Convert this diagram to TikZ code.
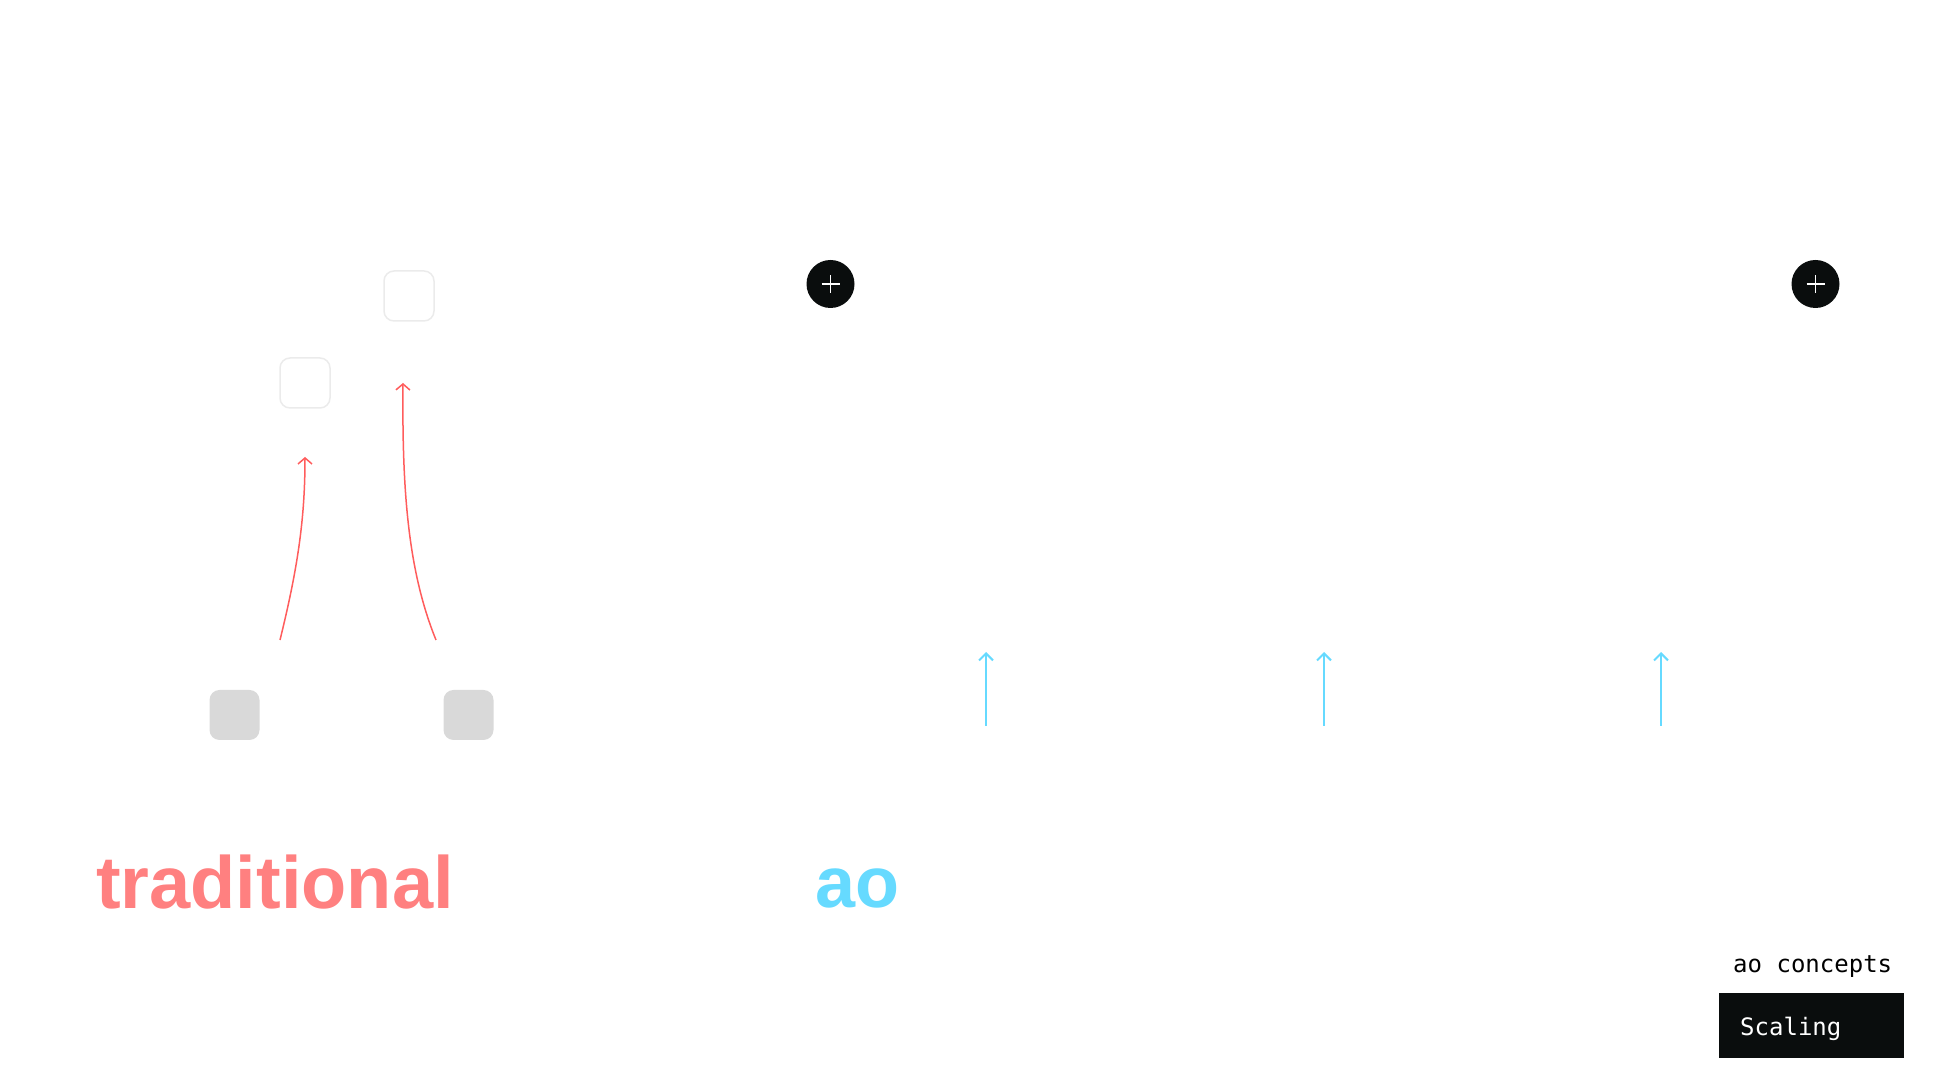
\documentclass[tikz,border=0pt]{standalone}
\usepackage{fontspec}
\usepackage{tikz}
\usetikzlibrary{arrows.meta}
\newfontfamily\headfont{Liberation Sans}
\newfontfamily\codefont{DejaVu Sans Mono}
\definecolor{tradred}{HTML}{FF8080}
\definecolor{arrowred}{HTML}{FF5C5C}
\definecolor{aoblue}{HTML}{66DAFF}
\definecolor{inkblack}{HTML}{0A0D0D}
\definecolor{boxgrey}{HTML}{D9D9D9}
\definecolor{lightgrey}{HTML}{EBEBEB}

\begin{document}
\begin{tikzpicture}[x=1pt,y=1pt]
            \useasboundingbox (0,0) rectangle (1938,1091);

            \begin{scope}[every node/.style={rounded corners=10pt,minimum size=50pt,inner sep=0pt}]
                \node[fill=boxgrey] (p) at (234.5,376) {};
                \node[fill=boxgrey] (q) at (468.5,376) {};
                \node[draw=lightgrey,line width=1.5pt] (r) at (305,708) {};
                \node[draw=lightgrey,line width=1.5pt] (s) at (409,795) {};
            \end{scope}

            \begin{scope}[every node/.style={circle,fill=inkblack,minimum size=48pt,inner sep=0pt}]
                \node (c1) at (830.5,807) {};
                \node (c2) at (1815.5,807) {};
            \end{scope}
            \foreach \c in {c1,c2} {
                \draw[white,line width=1.5pt] (\c.center) +(-9,0) -- +(9,0);
                \draw[white,line width=1.5pt] (\c.center) +(0,-9) -- +(0,9);
            }

            \begin{scope}[arrowred,line width=1.5pt,-{Straight Barb[length=6pt,width=14pt]}]
                \coordinate (a1) at (280,451);
                \coordinate (a2) at (305,634);
                \coordinate (a3) at (436,451);
                \coordinate (a4) at (403,708);
                \draw (a1) .. controls (297,520) and (305,570) .. (a2);
                \draw (a3) .. controls (408,520) and (402,600) .. (a4);
            \end{scope}

            \begin{scope}[aoblue,line width=2pt]
                \foreach \x [count=\i] in {986,1324,1661} {
                    \coordinate (b\i) at (\x,365);
                    \coordinate (t\i) at (\x,439);
                    \path [-{Straight Barb[length=7pt,width=14pt]}] (b\i) edge (t\i);
                }
            \end{scope}

            \begin{scope}[every node/.style={anchor=base west,inner sep=0pt}]
                \node[text=tradred,font=\headfont\bfseries\fontsize{74}{80}\selectfont] (trad) at (96,182) {traditional};
                \node[text=aoblue,font=\headfont\bfseries\fontsize{72}{80}\selectfont] (ao) at (815,183) {ao};
                \node[text=black,font=\codefont\fontsize{24}{28}\selectfont] (concepts) at (1733,118) {ao concepts};
            \end{scope}

            \node[fill=inkblack,minimum width=185pt,minimum height=65pt,inner sep=0pt] (tag) at (1811.5,65.5) {};
            \node[anchor=base west,inner sep=0pt,text=white,font=\codefont\fontsize{24}{28}\selectfont] (scaling) at (1740,55) {Scaling};
\end{tikzpicture}
\end{document}
